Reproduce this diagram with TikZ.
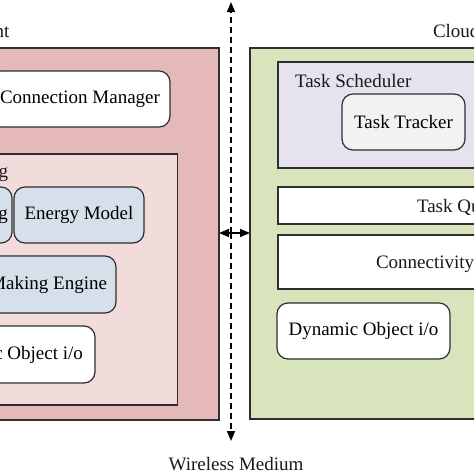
\documentclass[tikz,border=0pt]{standalone}
\usepackage{fontspec}
\setmainfont{Liberation Serif}
\usetikzlibrary{arrows.meta}
\definecolor{outred}{HTML}{E5B9B8}
\definecolor{inpink}{HTML}{F2DCDB}
\definecolor{bluebox}{HTML}{D5E0EA}
\definecolor{outgreen}{HTML}{D8E4BC}
\definecolor{lavender}{HTML}{E6E2EE}
\definecolor{trackgray}{HTML}{F2F2F2}
\definecolor{edge}{HTML}{2E2E2E}
\tikzset{
  frame/.style={draw=edge, line width=1.2pt, inner sep=0pt, outer sep=0pt},
  rbox/.style={frame, rounded corners=11pt, font=\fontsize{19}{22}\selectfont},
  lbl/.style={inner sep=0pt, outer sep=0pt, font=\fontsize{19}{22}\selectfont, text=black!90},
  wire/.style={line width=1.3pt, draw=black, -{Triangle[length=10pt,width=8pt]}},
}
\begin{document}
\begin{tikzpicture}[x=1pt,y=-1pt]
\useasboundingbox (0,0) rectangle (474,474);
\clip (0,0) rectangle (474,474);
\fill[white] (0,0) rectangle (474,474);
% client side
\node[frame, fill=outred, anchor=north west, minimum width=269pt, minimum height=372pt] (client) at (-50,48) {};
\node[rbox, fill=white, minimum width=180pt, minimum height=56pt] (conn) at (80,99) {Connection Manager};
\node[frame, fill=inpink, anchor=north west, minimum width=217.5pt, minimum height=251pt] (offl) at (-40,154) {};
\node[lbl, anchor=base east] (offlt) at (8,177) {Offloading};
\node[rbox, fill=bluebox, minimum width=76pt, minimum height=56pt] (prof) at (-26,215) {Profiling};
\node[rbox, fill=bluebox, minimum width=130pt, minimum height=56pt] (energy) at (79,215) {Energy Model};
\node[rbox, fill=bluebox, minimum width=208pt, minimum height=57pt] (dme) at (12,284.5) {Decision Making Engine};
\node[rbox, fill=white, minimum width=174pt, minimum height=57pt] (dobjc) at (8,354.5) {Dynamic Object i/o};
\node[lbl, anchor=base east] (clientt) at (9.5,37) {Client};
% cloud side
\node[frame, fill=outgreen, anchor=north west, minimum width=260pt, minimum height=371pt] (cloud) at (250,48) {};
\node[frame, fill=lavender, anchor=north west, minimum width=220pt, minimum height=106pt] (sched) at (278,62) {};
\node[lbl, anchor=base west] (schedt) at (295,87) {Task Scheduler};
\node[rbox, fill=trackgray, minimum width=123pt, minimum height=56pt] (track) at (403.5,122) {Task Tracker};
\node[frame, fill=white, anchor=north west, minimum width=220pt, minimum height=37pt] (queue) at (278,187) {};
\node[lbl, anchor=base west] (queuet) at (417,212) {Task Queue};
\node[frame, fill=white, anchor=north west, minimum width=220pt, minimum height=54pt] (connm) at (278,235) {};
\node[lbl, anchor=base west] (connmt) at (376,268) {Connectivity Manager};
\node[rbox, fill=white, minimum width=173pt, minimum height=56pt] (dobjs) at (363.5,331) {Dynamic Object i/o};
\node[lbl, anchor=base west] (cloudt) at (433,37) {Cloud};
% wireless medium
\coordinate (wtop) at (231,2);
\coordinate (wbot) at (231,441);
\coordinate (wmid) at (231,233);
\draw[wire, dash pattern=on 6pt off 4pt] (wmid) -- (wtop);
\draw[wire, dash pattern=on 6pt off 4pt] (wmid) -- (wbot);
\draw[line width=1.3pt, {Triangle[length=10pt,width=8pt]}-{Triangle[length=10pt,width=8pt]}] (client.east |- wmid) -- (cloud.west |- wmid);
\node[lbl, anchor=base] (wireless) at (236,470) {Wireless Medium};
\end{tikzpicture}
\end{document}
